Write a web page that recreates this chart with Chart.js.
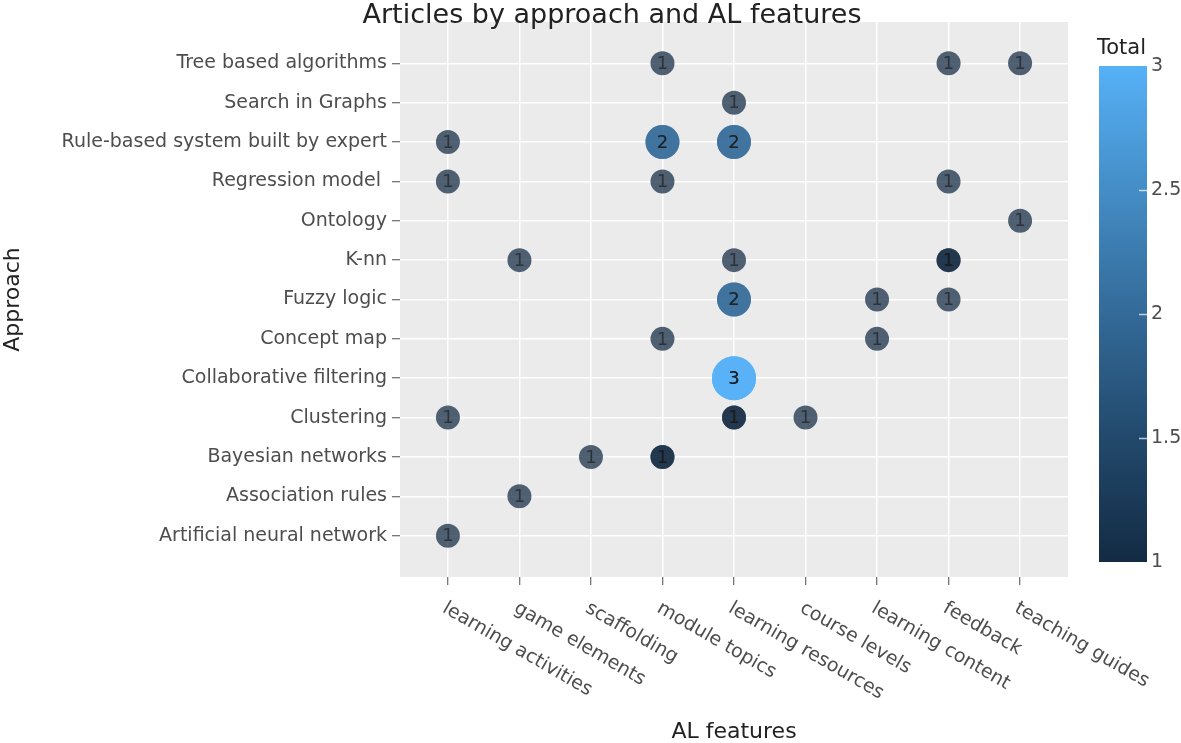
<!DOCTYPE html>
<html>
<head>
<meta charset="utf-8">
<script src="https://cdn.jsdelivr.net/npm/chart.js@4.4.1/dist/chart.umd.min.js"></script>
<style>
  html, body { margin: 0; padding: 0; background: #fff; }
  #main { position: absolute; left: 0; top: 0; }
  #cbar { position: absolute; left: 1090px; top: 0; }
</style>
</head>
<body>
<canvas id="main" width="1181" height="743"></canvas>
<canvas id="cbar" width="91" height="600"></canvas>
<script>
// categories, top row first on the y axis
const approaches = ['Tree based algorithms', 'Search in Graphs', 'Rule-based system built by expert',
  'Regression model ', 'Ontology', 'K-nn', 'Fuzzy logic', 'Concept map', 'Collaborative filtering',
  'Clustering', 'Bayesian networks', 'Association rules', 'Artificial neural network'];
const features = ['learning activities', 'game elements', 'scaffolding', 'module topics',
  'learning resources', 'course levels', 'learning content', 'feedback', 'teaching guides'];

// one entry per article record (overlapping records make the darker bubbles)
const recApproach = [
  'Tree based algorithms', 'Tree based algorithms', 'Tree based algorithms',
  'Search in Graphs',
  'Rule-based system built by expert', 'Rule-based system built by expert', 'Rule-based system built by expert',
  'Rule-based system built by expert', 'Rule-based system built by expert',
  'Regression model ', 'Regression model ', 'Regression model ',
  'Ontology',
  'K-nn', 'K-nn', 'K-nn', 'K-nn',
  'Fuzzy logic', 'Fuzzy logic', 'Fuzzy logic', 'Fuzzy logic',
  'Concept map', 'Concept map',
  'Collaborative filtering', 'Collaborative filtering', 'Collaborative filtering',
  'Clustering', 'Clustering', 'Clustering', 'Clustering',
  'Bayesian networks', 'Bayesian networks', 'Bayesian networks',
  'Association rules',
  'Artificial neural network'];
const recFeature = [
  'module topics', 'feedback', 'teaching guides',
  'learning resources',
  'learning activities', 'module topics', 'module topics',
  'learning resources', 'learning resources',
  'learning activities', 'module topics', 'feedback',
  'teaching guides',
  'game elements', 'learning resources', 'feedback', 'feedback',
  'learning resources', 'learning resources', 'learning content', 'feedback',
  'module topics', 'learning content',
  'learning resources', 'learning resources', 'learning resources',
  'learning activities', 'learning resources', 'learning resources', 'course levels',
  'scaffolding', 'module topics', 'module topics',
  'game elements',
  'learning activities'];
const recTotal = [
  1, 1, 1,
  1,
  1, 2, 2,
  2, 2,
  1, 1, 1,
  1,
  1, 1, 1, 1,
  2, 2, 1, 1,
  1, 1,
  3, 3, 3,
  1, 1, 1, 1,
  1, 1, 1,
  1,
  1];
const colorbarTicks = [1, 1.5, 2, 2.5, 3];

// ggplot default continuous gradient
const gradStops = ['#132B43', '#22496C', '#336A98', '#448DC6', '#56B1F7'];
const FONT = 'DejaVu Sans';
const GREY = '#4d4d4d';

function hexRgb(h) {
  return [1, 3, 5].map(i => parseInt(h.slice(i, i + 2), 16));
}
function colorFor(t, alpha) {
  const p = (t - 1) / 2 * (gradStops.length - 1);
  const i = Math.min(Math.floor(p), gradStops.length - 2);
  const f = p - i;
  const a = hexRgb(gradStops[i]), b = hexRgb(gradStops[i + 1]);
  const c = a.map((v, k) => Math.round(v + (b[k] - v) * f));
  return `rgba(${c[0]},${c[1]},${c[2]},${alpha})`;
}

const points = recTotal.map((t, i) => ({
  x: features.indexOf(recFeature[i]),
  y: approaches.indexOf(recApproach[i]),
  t: t
}));

// grey panel behind the points
const panelBg = {
  id: 'panelBg',
  beforeDraw(chart) {
    const { ctx, chartArea: a } = chart;
    ctx.save();
    ctx.fillStyle = '#ebebeb';
    ctx.fillRect(a.left, a.top, a.right - a.left, a.bottom - a.top);
    ctx.restore();
  }
};

// counts written on the bubbles, rotated x labels and the title
const extras = {
  id: 'extras',
  afterDatasetsDraw(chart) {
    const ctx = chart.ctx;
    const meta = chart.getDatasetMeta(0);
    ctx.save();
    ctx.font = `18px "${FONT}"`;
    ctx.textAlign = 'center';
    ctx.textBaseline = 'middle';
    ctx.fillStyle = 'rgba(25,25,25,0.65)';
    meta.data.forEach((el, i) => {
      ctx.fillText(String(points[i].t), el.x, el.y + 1);
    });
    ctx.restore();
  },
  afterDraw(chart) {
    const ctx = chart.ctx;
    const xs = chart.scales.x;
    const a = chart.chartArea;
    ctx.save();
    ctx.font = `19px "${FONT}"`;
    ctx.fillStyle = GREY;
    ctx.textAlign = 'left';
    ctx.textBaseline = 'middle';
    features.forEach((f, i) => {
      const px = xs.getPixelForValue(i);
      ctx.save();
      ctx.translate(px - 4, a.bottom + 30);
      ctx.rotate(Math.PI / 6);
      ctx.fillText(f, 0, 0);
      ctx.restore();
    });
    ctx.font = `27px "${FONT}"`;
    ctx.fillStyle = '#222';
    ctx.textAlign = 'center';
    ctx.textBaseline = 'alphabetic';
    ctx.fillText('Articles by approach and AL features', 612, 23);
    ctx.restore();
  }
};

new Chart(document.getElementById('main'), {
  type: 'scatter',
  data: {
    datasets: [{
      data: points,
      backgroundColor: c => colorFor(c.raw.t, 0.73),
      borderWidth: 0,
      pointRadius: c => 7 + 5 * c.raw.t,
      pointHoverRadius: c => 7 + 5 * c.raw.t
    }]
  },
  plugins: [panelBg, extras],
  options: {
    responsive: false,
    animation: false,
    events: [],
    layout: { padding: { top: 17, right: 113, left: 0, bottom: 0 } },
    plugins: { legend: { display: false }, tooltip: { enabled: false } },
    scales: {
      x: {
        type: 'linear',
        min: -0.67,
        max: 8.67,
        afterBuildTicks: s => { s.ticks = features.map((_, i) => ({ value: i })); },
        afterFit: s => { s.height = 166; },
        ticks: { display: false },
        grid: { color: '#fff', lineWidth: 1.5, tickColor: GREY, tickLength: 8, tickWidth: 1 },
        border: { display: false },
        title: { display: true, text: 'AL features', font: { family: FONT, size: 22, lineHeight: 1 }, color: '#222', padding: { top: 0, bottom: 0 } }
      },
      y: {
        type: 'linear',
        reverse: true,
        min: -1.05,
        max: 13.05,
        afterBuildTicks: s => { s.ticks = approaches.map((_, i) => ({ value: i })); },
        afterFit: s => { s.width = 400; },
        ticks: {
          callback: v => approaches[v],
          font: { family: FONT, size: 19 },
          color: GREY,
          padding: 5
        },
        grid: { color: '#fff', lineWidth: 1.5, tickColor: GREY, tickLength: 8, tickWidth: 1 },
        border: { display: false },
        title: { display: true, text: 'Approach', font: { family: FONT, size: 22 }, color: '#222', padding: 0 }
      }
    }
  }
});

// colour bar as its own small chart
const cbExtras = {
  id: 'cbExtras',
  afterDraw(chart) {
    const ctx = chart.ctx;
    const ys = chart.scales.y;
    const a = chart.chartArea;
    ctx.save();
    ctx.strokeStyle = 'rgba(255,255,255,0.7)';
    ctx.lineWidth = 1.5;
    colorbarTicks.slice(1, -1).forEach(v => {
      const py = Math.round(ys.getPixelForValue(v)) + 0.5;
      ctx.beginPath();
      ctx.moveTo(a.right - 8, py);
      ctx.lineTo(a.right, py);
      ctx.stroke();
    });
    ctx.font = `21px "${FONT}"`;
    ctx.fillStyle = '#222';
    ctx.textBaseline = 'alphabetic';
    ctx.fillText('Total', 7, 54);
    ctx.restore();
  }
};

new Chart(document.getElementById('cbar'), {
  type: 'bar',
  data: {
    labels: ['Total'],
    datasets: [{
      data: [[colorbarTicks[0], colorbarTicks[colorbarTicks.length - 1]]],
      barPercentage: 1,
      categoryPercentage: 1,
      backgroundColor: c => {
        const a = c.chart.chartArea;
        if (!a) return gradStops[0];
        const g = c.chart.ctx.createLinearGradient(0, a.bottom, 0, a.top);
        gradStops.forEach((s, i) => g.addColorStop(i / (gradStops.length - 1), s));
        return g;
      }
    }]
  },
  plugins: [cbExtras],
  options: {
    responsive: false,
    animation: false,
    events: [],
    layout: { padding: { top: 66, left: 9, right: 0, bottom: 38 } },
    plugins: { legend: { display: false }, tooltip: { enabled: false } },
    scales: {
      x: { display: false },
      y: {
        position: 'right',
        min: 1,
        max: 3,
        afterBuildTicks: s => { s.ticks = colorbarTicks.map(v => ({ value: v })); },
        afterFit: s => { s.width = 34; },
        ticks: { callback: v => String(v), font: { family: FONT, size: 19 }, color: GREY, padding: -4 },
        grid: { display: false },
        border: { display: false }
      }
    }
  }
});
</script>
</body>
</html>
